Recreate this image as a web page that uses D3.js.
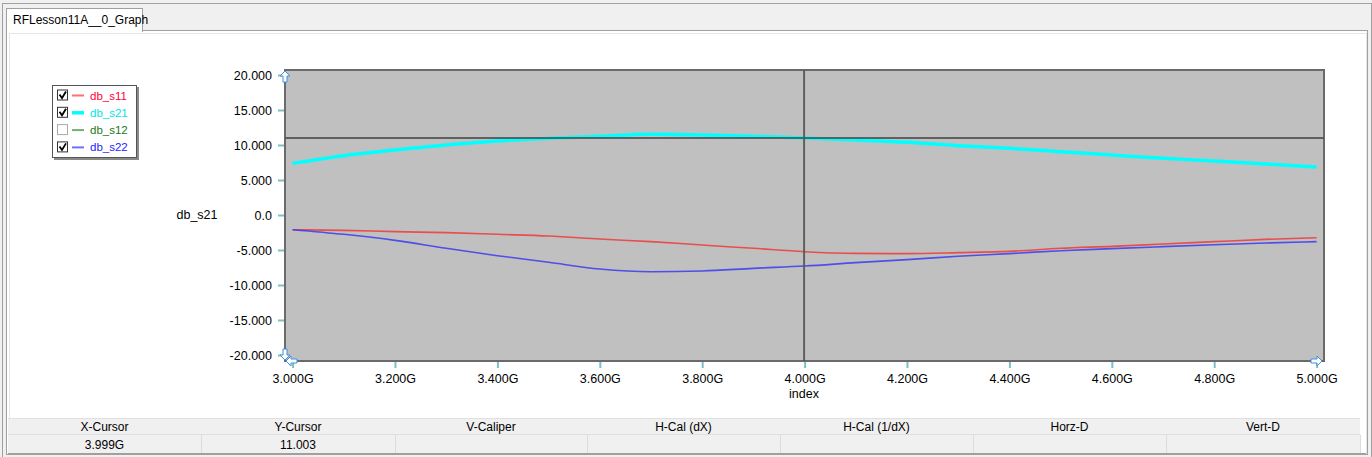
<!DOCTYPE html>
<html lang="en">
<head>
<meta charset="utf-8">
<title>RFLesson11A__0_Graph</title>
<script src="https://d3js.org/d3.v7.min.js"></script>
<style>
  body { margin: 0; background: #f0f0f0; font-family: "Liberation Sans", Arial, sans-serif; }
  svg text { font-family: "Liberation Sans", Arial, sans-serif; }
  .tick line { stroke: #7fbfbf; stroke-width: 2; }
  .tick text { fill: #000; font-size: 12.5px; }
</style>
</head>
<body>
<svg width="1372" height="457"></svg>
<script>
  // frequencies (Hz) sampled every 100 MHz
  var freqs = [3.0e9, 3.1e9, 3.2e9, 3.3e9, 3.4e9, 3.5e9, 3.6e9, 3.7e9, 3.8e9, 3.9e9, 4.0e9,
               4.1e9, 4.2e9, 4.3e9, 4.4e9, 4.5e9, 4.6e9, 4.7e9, 4.8e9, 4.9e9, 5.0e9];
  var db_s11 = [-2.1, -2.19, -2.38, -2.52, -2.76, -3.0, -3.43, -3.81, -4.29, -4.76, -5.24,
                -5.48, -5.52, -5.38, -5.19, -4.76, -4.48, -4.14, -3.81, -3.48, -3.24];
  var db_s21 = [7.38, 8.48, 9.29, 10.0, 10.57, 10.95, 11.24, 11.52, 11.43, 11.24, 11.0,
                10.71, 10.38, 9.9, 9.52, 9.05, 8.57, 8.1, 7.71, 7.29, 6.86];
  var db_s22 = [-2.1, -2.76, -3.62, -4.76, -5.81, -6.76, -7.71, -8.1, -8.0, -7.62, -7.29,
                -6.81, -6.38, -5.9, -5.52, -5.1, -4.81, -4.52, -4.24, -4.0, -3.81];

  var legendNames = ["db_s11", "db_s21", "db_s12", "db_s22"];
  var legendShown = [true, true, false, true];

  var yTicks = [20, 15, 10, 5, 0, -5, -10, -15, -20];
  var yTickLabels = ["20.000", "15.000", "10.000", "5.000", "0.0", "-5.000", "-10.000", "-15.000", "-20.000"];
  var xTicks = [3.0e9, 3.2e9, 3.4e9, 3.6e9, 3.8e9, 4.0e9, 4.2e9, 4.4e9, 4.6e9, 4.8e9, 5.0e9];
  var xTickLabels = ["3.000G", "3.200G", "3.400G", "3.600G", "3.800G", "4.000G", "4.200G", "4.400G", "4.600G", "4.800G", "5.000G"];

  var cursorX = 3.999e9, cursorY = 11.003;
  var tableHeaders = ["X-Cursor", "Y-Cursor", "V-Caliper", "H-Cal (dX)", "H-Cal (1/dX)", "Horz-D", "Vert-D"];
  var tableValues = ["3.999G", "11.003", "", "", "", "", ""];

  var svg = d3.select("svg");

  // window frame + tab
  svg.append("rect").attr("x", 2.5).attr("y", 3.5).attr("width", 1369).attr("height", 460)
    .attr("fill", "#f0f0f0").attr("stroke", "#a0a0a0");
  svg.append("rect").attr("x", 6.5).attr("y", 30.5).attr("width", 1361).attr("height", 424)
    .attr("fill", "#fff").attr("stroke", "#a0a0a0");
  svg.append("rect").attr("x", 6.5).attr("y", 8.5).attr("width", 136).attr("height", 23)
    .attr("fill", "#fff").attr("stroke", "#a0a0a0");
  svg.append("rect").attr("x", 7).attr("y", 29).attr("width", 135).attr("height", 3).attr("fill", "#fff");
  svg.append("text").attr("x", 13).attr("y", 24).attr("font-size", 12).text("RFLesson11A__0_Graph");
  svg.append("rect").attr("x", 9.5).attr("y", 33.5).attr("width", 1357).attr("height", 420)
    .attr("fill", "#fff").attr("stroke", "#e6e6e6");

  // plot area
  var px0 = 285, px1 = 1324, py0 = 70, py1 = 361;
  var x = d3.scaleLinear().domain([3e9, 5e9]).range([292.6, 1316.6]);
  var y = d3.scaleLinear().domain([-20, 20]).range([355, 75]);

  svg.append("rect").attr("x", px0).attr("y", py0).attr("width", px1 - px0).attr("height", py1 - py0)
    .attr("fill", "#c0c0c0").attr("stroke", "#6a6a6a").attr("stroke-width", 2);

  var yAxis = svg.append("g").attr("transform", "translate(284,0)")
    .call(d3.axisLeft(y).tickValues(yTicks).tickFormat(function (d, i) { return yTickLabels[i]; })
      .tickSize(6).tickPadding(6));
  yAxis.select(".domain").remove();

  var xAxis = svg.append("g").attr("transform", "translate(0," + (py1 + 1) + ")")
    .call(d3.axisBottom(x).tickValues(xTicks).tickFormat(function (d, i) { return xTickLabels[i]; })
      .tickSize(6).tickPadding(6));
  xAxis.select(".domain").remove();

  svg.append("text").attr("x", 197).attr("y", 219).attr("text-anchor", "middle")
    .attr("font-size", 12.5).text("db_s21");
  svg.append("text").attr("x", 804).attr("y", 398).attr("text-anchor", "middle")
    .attr("font-size", 12.5).text("index");

  var line = d3.line()
    .x(function (d, i) { return x(freqs[i]); })
    .y(function (d) { return y(d); })
    .curve(d3.curveMonotoneX);

  var plot = svg.append("g");
  plot.append("path").datum(db_s11).attr("d", line).attr("fill", "none")
    .attr("stroke", "#f03a3a").attr("stroke-width", 1.6).attr("stroke-opacity", 0.85);
  plot.append("path").datum(db_s22).attr("d", line).attr("fill", "none")
    .attr("stroke", "#3a3af0").attr("stroke-width", 1.6).attr("stroke-opacity", 0.85);
  plot.append("path").datum(db_s21).attr("d", line).attr("fill", "none")
    .attr("stroke", "#00ffff").attr("stroke-width", 3.5);

  // cursors
  svg.append("line").attr("x1", px0).attr("x2", px1).attr("y1", y(cursorY)).attr("y2", y(cursorY))
    .attr("stroke", "#555").attr("stroke-width", 2).attr("stroke-opacity", 0.9);
  svg.append("line").attr("x1", x(cursorX)).attr("x2", x(cursorX)).attr("y1", py0).attr("y2", py1)
    .attr("stroke", "#555").attr("stroke-width", 2).attr("stroke-opacity", 0.9);

  // caliper handles
  function arrow(cx, cy, rot) {
    svg.append("path")
      .attr("d", "M0,-6 L5,-1 L2,-1 L2,5 L-2,5 L-2,-1 L-5,-1 Z")
      .attr("transform", "translate(" + cx + "," + cy + ") rotate(" + rot + ")")
      .attr("fill", "#fff").attr("stroke", "#3d8fe0").attr("stroke-width", 1);
  }
  arrow(285, 77, 0);
  arrow(285, 354, 180);
  arrow(292, 361, -90);
  arrow(1316, 361, 90);

  // legend
  var lg = svg.append("g").attr("transform", "translate(52,85)");
  lg.append("rect").attr("x", 2).attr("y", 2).attr("width", 85).attr("height", 73).attr("fill", "#8a8a8a");
  lg.append("rect").attr("x", 0.5).attr("y", 0.5).attr("width", 84).attr("height", 72)
    .attr("fill", "#fff").attr("stroke", "#555");
  var lineColors = ["#ff7070", "#00ffff", "#70b070", "#7070ff"];
  var textColors = ["#ff0033", "#00e6e6", "#1a7a1a", "#2222ff"];
  var rows = lg.selectAll("g.row").data(legendNames).enter().append("g")
    .attr("transform", function (d, i) { return "translate(0," + (10.5 + i * 17.3) + ")"; });
  rows.append("rect").attr("x", 5.5).attr("y", -5.5).attr("width", 10).attr("height", 10)
    .attr("fill", "#fff").attr("stroke", function (d, i) { return legendShown[i] ? "#333" : "#aaa"; });
  rows.filter(function (d, i) { return legendShown[i]; }).append("path")
    .attr("d", "M7.5,-1 L10,2.5 L14,-4").attr("fill", "none").attr("stroke", "#000").attr("stroke-width", 1.8);
  rows.append("line").attr("x1", 20).attr("x2", 32).attr("y1", 0).attr("y2", 0)
    .attr("stroke", function (d, i) { return lineColors[i]; })
    .attr("stroke-width", function (d, i) { return i === 1 ? 3.5 : 2; });
  rows.append("text").attr("x", 38).attr("y", 4).attr("font-size", 11.5)
    .attr("fill", function (d, i) { return textColors[i]; }).text(function (d) { return d; });

  // cursor table
  var colEdges = [8, 201, 395, 587, 780, 973, 1166, 1360];
  var tb = svg.append("g");
  tb.append("rect").attr("x", 8).attr("y", 418).attr("width", 1352).attr("height", 35)
    .attr("fill", "#f0f0f0");
  tb.append("line").attr("x1", 8).attr("x2", 1360).attr("y1", 418.5).attr("y2", 418.5).attr("stroke", "#e0e0e0");
  tb.append("line").attr("x1", 8).attr("x2", 1360).attr("y1", 434.5).attr("y2", 434.5).attr("stroke", "#e0e0e0");
  tb.append("line").attr("x1", 8).attr("x2", 1366).attr("y1", 453.5).attr("y2", 453.5).attr("stroke", "#a0a0a0");
  tb.selectAll("line.sep").data(colEdges.slice(1)).enter().append("line")
    .attr("x1", function (d) { return d + 0.5; }).attr("x2", function (d) { return d + 0.5; })
    .attr("y1", 435).attr("y2", 453).attr("stroke", "#dcdcdc");
  tb.selectAll("text.h").data(tableHeaders).enter().append("text")
    .attr("x", function (d, i) { return (colEdges[i] + colEdges[i + 1]) / 2; })
    .attr("y", 431).attr("text-anchor", "middle").attr("font-size", 12).text(function (d) { return d; });
  tb.selectAll("text.v").data(tableValues).enter().append("text")
    .attr("x", function (d, i) { return (colEdges[i] + colEdges[i + 1]) / 2; })
    .attr("y", 449).attr("text-anchor", "middle").attr("font-size", 12).text(function (d) { return d; });
</script>
</body>
</html>
